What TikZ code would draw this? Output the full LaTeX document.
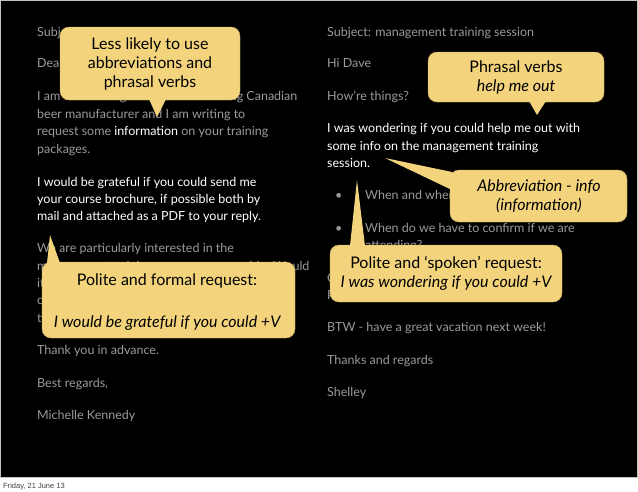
\documentclass[tikz,border=0pt]{standalone}
\usepackage{fontspec}
\setmainfont{Lato}
\newfontfamily\footfont{Liberation Sans}
\definecolor{grey}{HTML}{9A9A9A}
\definecolor{callout}{HTML}{F3D47C}
\begin{document}
\begin{tikzpicture}[x=1pt,y=-1pt,
  body/.style={anchor=base west,inner sep=0pt,text=grey,font=\fontsize{12.5}{15}\selectfont},
  hl/.style={body,text=white},
  ctext/.style={inner sep=0pt,text=black,font=\fontsize{16}{19}\selectfont,align=center},
  bubble/.style={fill=callout,draw=callout!80!black,line width=0.4pt,rounded corners=9pt}]
\useasboundingbox (0,0) rectangle (638,491);
\fill[white] (0,0) rectangle (638,491);
\fill[black] (0,0) rectangle (638,478);
\draw[grey!60,line width=0.6pt] (0.5,0.5) rectangle (637.5,477.5);
\node[anchor=base west,inner sep=0pt,text=black!75,font=\footfont\fontsize{7.5}{9}\selectfont] (foot) at (3,488) {Friday, 21 June 13};
% left column
\node[body] (l1) at (37,36) {Subject: Training course enquiry};
\node[body] (l2) at (37,67) {Dear Sir or Madam,};
\node[body] (l3) at (37,100) {I am the training manager of a leading Canadian};
\node[body] (l4) at (37,118) {beer manufacturer and I am writing to};
\node[body] (l5) at (37,135) {request some \textcolor{white}{information} on your training};
\node[body] (l6) at (37,153) {packages.};
\node[hl] (l7) at (37,186) {I would be grateful if you could send me};
\node[hl] (l8) at (37,203) {your course brochure, if possible both by};
\node[hl] (l9) at (37,220) {mail and attached as a PDF to your reply.};
\node[body] (l10) at (37,252) {We are particularly interested in the};
\node[body] (l11) at (37,270) {management training courses you provide. Would};
\node[body] (l12) at (37,287) {it be possible to include the course dates and};
\node[body] (l13) at (37,304) {cost of the courses in the brochure, and a};
\node[body] (l14) at (37,322) {timetable?};
\node[body] (l15) at (37,354) {Thank you in advance.};
\node[body] (l16) at (37,387) {Best regards,};
\node[body] (l17) at (37,419) {Michelle Kennedy};
% right column
\node[body] (r1) at (327,36) {Subject: management training session};
\node[body] (r2) at (327,67) {Hi Dave};
\node[body] (r3) at (327,100) {How're things?};
\node[hl] (r4) at (327,132) {I was wondering if you could help me out with};
\node[hl] (r5) at (327,150) {some info on the management training};
\node[hl] (r6) at (327,167) {session.};
\node[body] (b1) at (335,199) {•};
\node[body] (r7) at (365,199) {When and where is it?};
\node[body] (b2) at (335,232) {•};
\node[body] (r8) at (365,232) {When do we have to confirm if we are};
\node[body] (r9) at (365,249) {attending?};
\node[body] (r10) at (327,282) {Could you send me the session};
\node[body] (r11) at (327,299) {PDF?};
\node[body] (r12) at (327,331) {BTW - have a great vacation next week!};
\node[body] (r13) at (327,364) {Thanks and regards};
\node[body] (r14) at (327,396) {Shelley};
% callouts
\coordinate (t1) at (157,117);
\draw[bubble] (60,27) rectangle (240,100);
\fill[callout] (149,99) -- (t1) -- (166,99) -- cycle;
\node[ctext] (c1) at (150,64) {Less likely to use\\abbreviations and\\phrasal verbs};
\coordinate (t2) at (50,235);
\draw[bubble] (42,262) rectangle (295,338);
\fill[callout] (47,263) -- (t2) -- (60,263) -- cycle;
\node[ctext] (c2a) at (167,281) {Polite and formal request:};
\node[ctext,font=\fontsize{16}{19}\selectfont\itshape] (c2b) at (167,323) {I would be grateful if you could +V};
\coordinate (t3) at (537,115);
\draw[bubble] (428,52) rectangle (604,102);
\fill[callout] (529,101) -- (t3) -- (546,101) -- cycle;
\node[ctext] (c3) at (516,77) {Phrasal verbs\\\itshape help me out};
\coordinate (t4) at (385,158);
\draw[bubble] (450,170) rectangle (627,222);
\fill[callout] (452,172) -- (t4) -- (452,190) -- cycle;
\node[ctext,font=\fontsize{16}{19}\selectfont\itshape] (c4) at (539,196) {Abbreviation - info\\(information)};
\coordinate (t5) at (357,180);
\draw[bubble] (330,245) rectangle (562,302);
\fill[callout] (350,246) -- (t5) -- (365,246) -- cycle;
\node[ctext] (c5) at (446,273) {Polite and `spoken' request:\\\itshape I was wondering if you could +V};
\end{tikzpicture}
\end{document}
